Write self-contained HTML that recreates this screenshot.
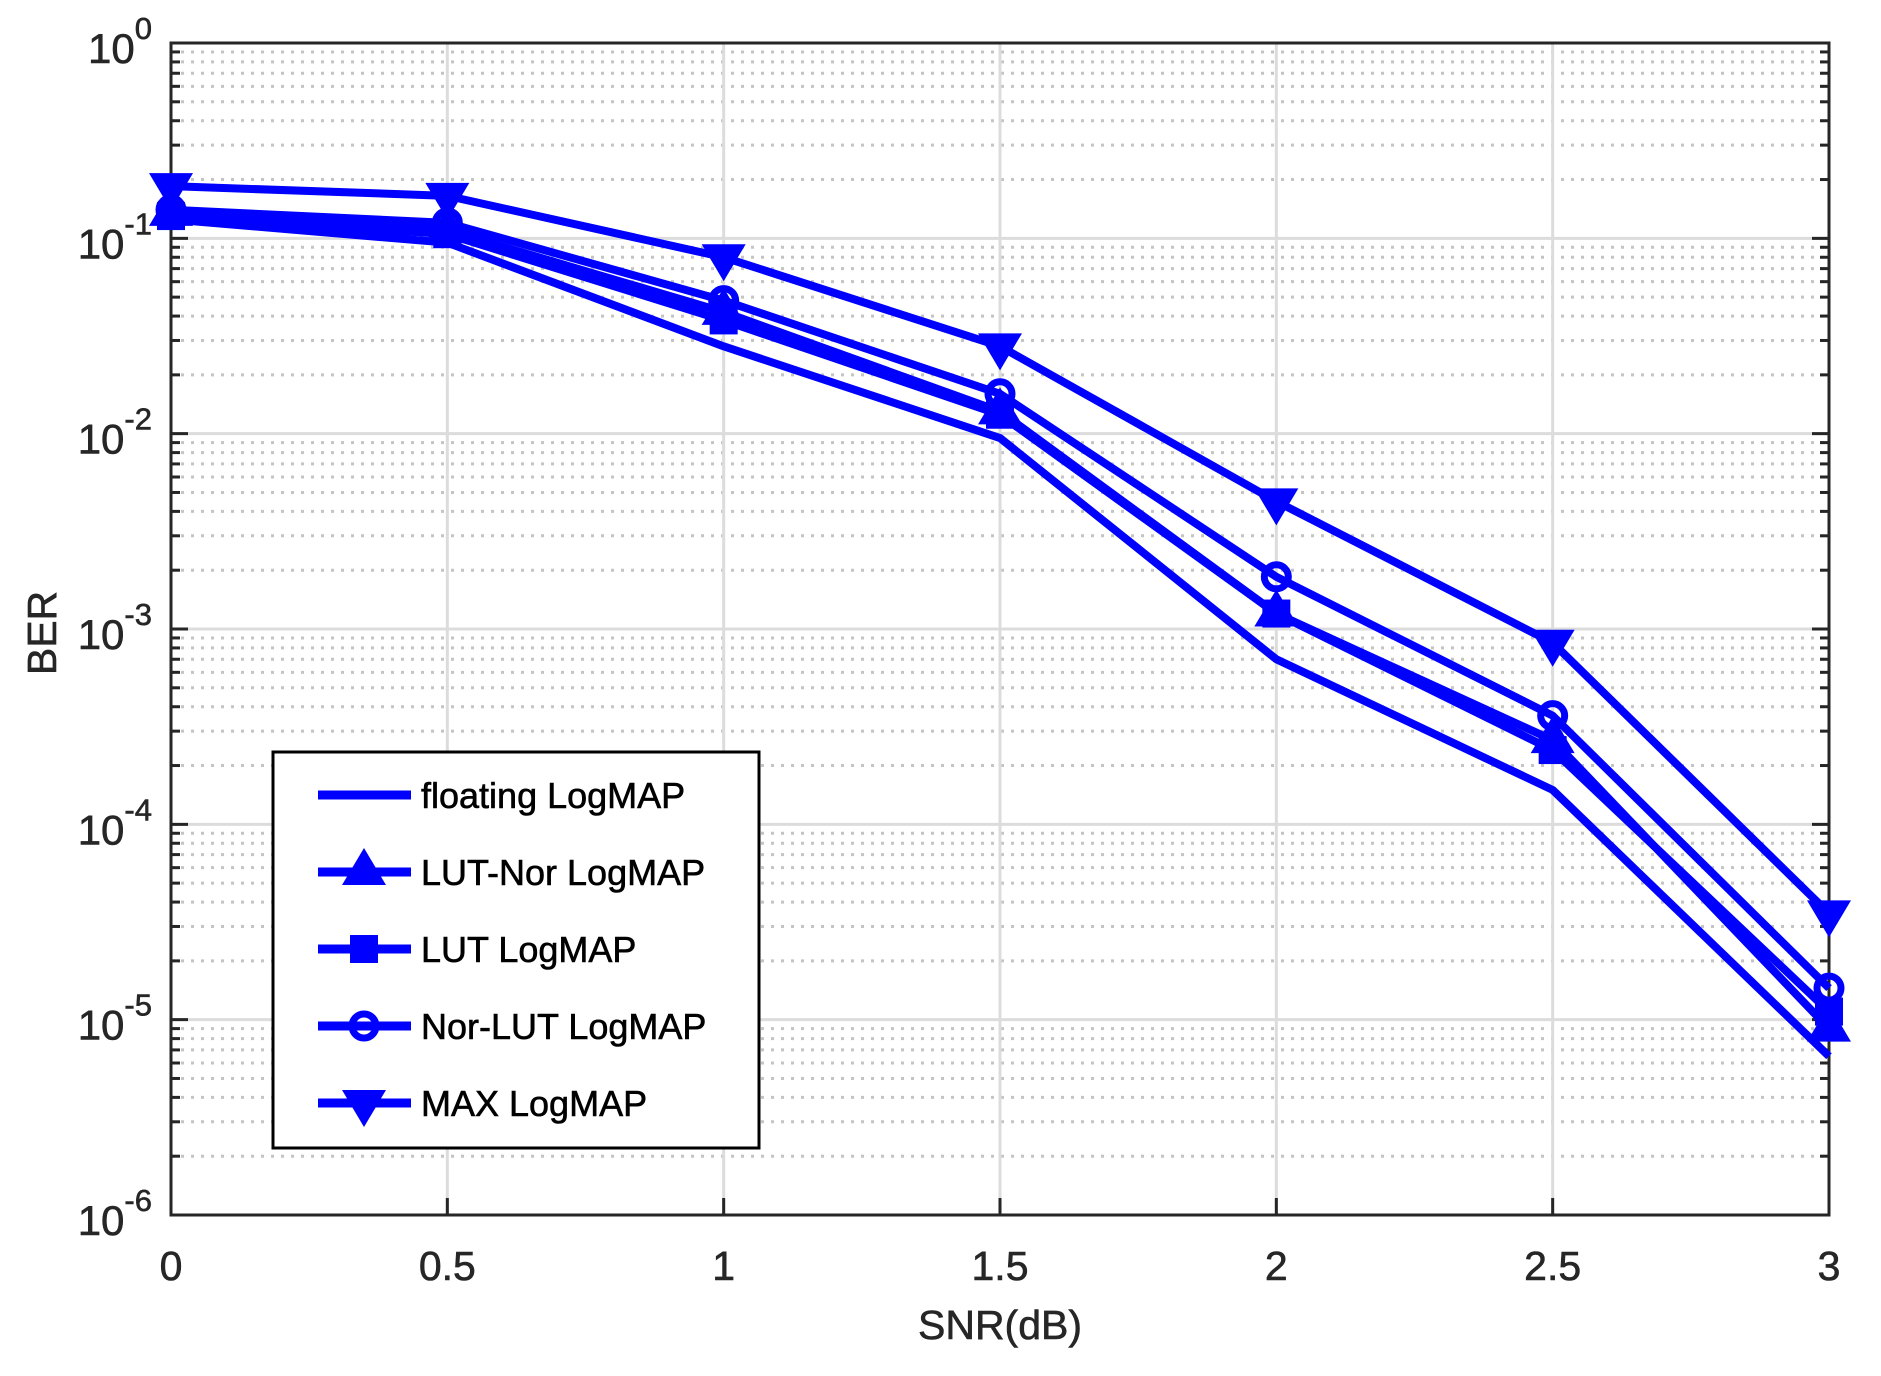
<!DOCTYPE html>
<html><head><meta charset="utf-8"><style>html,body{margin:0;padding:0;background:#fff}svg{display:block}</style></head>
<body>
<svg id="s" width="1881" height="1376" xmlns="http://www.w3.org/2000/svg" font-family="Liberation Sans, Arial, sans-serif"></svg>
<script>
const s=document.getElementById('s');
const X0=171,X1=1829,Y0=43,Y1=1215,D=(Y1-Y0)/6;
const fx=v=>X0+(X1-X0)*v/3, fy=v=>Y0+(-Math.log10(v))*D;
let h='<rect width="1881" height="1376" fill="#fff"/>';
for(let d=0;d<6;d++)for(let m=2;m<=9;m++){const y=Y0+D*d+D*(1-Math.log10(m));
h+=`<line x1="${X0}" x2="${X1}" y1="${y}" y2="${y}" stroke="#c4c4c4" stroke-width="3" stroke-dasharray="3,7"/>`;
h+=`<line x1="${X0}" x2="${X0+9}" y1="${y}" y2="${y}" stroke="#262626" stroke-width="3"/><line x1="${X1-9}" x2="${X1}" y1="${y}" y2="${y}" stroke="#262626" stroke-width="3"/>`;}
for(let d=1;d<6;d++){const y=Y0+D*d;h+=`<line x1="${X0}" x2="${X1}" y1="${y}" y2="${y}" stroke="#dcdcdc" stroke-width="3"/>`;}
for(let i=1;i<6;i++){const x=fx(i*0.5);h+=`<line x1="${x}" x2="${x}" y1="${Y0}" y2="${Y1}" stroke="#dcdcdc" stroke-width="3"/>`;}
for(let d=0;d<=6;d++){const y=Y0+D*d;h+=`<line x1="${X0}" x2="${X0+17}" y1="${y}" y2="${y}" stroke="#262626" stroke-width="3"/><line x1="${X1-17}" x2="${X1}" y1="${y}" y2="${y}" stroke="#262626" stroke-width="3"/>`;
h+=`<text x="${152}" y="${y+20}" font-size="42" fill="#262626" text-anchor="end" stroke="#262626" stroke-width="0.6">10<tspan font-size="31" dy="-24">${d==0?'0':'-'+d}</tspan></text>`;}
for(let i=0;i<=6;i++){const x=fx(i*0.5);h+=`<line x1="${x}" x2="${x}" y1="${Y1-17}" y2="${Y1}" stroke="#262626" stroke-width="3"/>`;
h+=`<text x="${x}" y="${1280}" font-size="41" fill="#262626" text-anchor="middle" stroke="#262626" stroke-width="0.6">${i*0.5}</text>`;}
h+=`<rect x="${X0}" y="${Y0}" width="${X1-X0}" height="${Y1-Y0}" fill="none" stroke="#262626" stroke-width="3"/>`;
h+=`<text x="1000" y="1339" font-size="41" fill="#262626" text-anchor="middle" stroke="#262626" stroke-width="0.6">SNR(dB)</text>`;
h+=`<text transform="translate(56,633) rotate(-90)" font-size="41" fill="#262626" text-anchor="middle" stroke="#262626" stroke-width="0.6">BER</text>`;
const xs=[0,0.5,1,1.5,2,2.5,3];
const S=[
 [[0.125,0.095,0.028,0.0095,7e-4,1.5e-4,6.5e-6],''],
 [[0.135,0.11,0.042,0.013,1.2e-3,2.7e-4,9e-6],'tu'],
 [[0.13,0.105,0.038,0.0125,1.2e-3,2.4e-4,1.1e-5],'sq'],
 [[0.14,0.12,0.048,0.016,1.85e-3,3.6e-4,1.45e-5],'ci'],
 [[0.185,0.165,0.08,0.028,4.5e-3,8.5e-4,3.5e-5],'td']];
const C='#0000ff';
function mk(t,x,y){
 if(t=='tu')return `<polygon points="${x},${y-24} ${x-22},${y+13} ${x+22},${y+13}" fill="${C}"/>`;
 if(t=='td')return `<polygon points="${x},${y+24} ${x-22},${y-13} ${x+22},${y-13}" fill="${C}"/>`;
 if(t=='sq')return `<rect x="${x-14}" y="${y-14}" width="28" height="28" fill="${C}"/>`;
 if(t=='ci')return `<circle cx="${x}" cy="${y}" r="12" fill="none" stroke="${C}" stroke-width="7"/>`;
 return '';}
S.forEach(([v,t])=>{const p=v.map((b,i)=>fx(xs[i])+','+fy(b)).join(' ');
 h+=`<polyline points="${p}" fill="none" stroke="${C}" stroke-width="8" stroke-linejoin="round"/>`;
 v.forEach((b,i)=>h+=mk(t,fx(xs[i]),fy(b)));});
h+=`<rect x="273" y="752" width="486" height="396" fill="#fff" stroke="#000" stroke-width="3"/>`;
const L=['floating LogMAP','LUT-Nor LogMAP','LUT LogMAP','Nor-LUT LogMAP','MAX LogMAP'];
L.forEach((n,i)=>{const y=795+i*77;
 h+=`<line x1="318" x2="411" y1="${y}" y2="${y}" stroke="${C}" stroke-width="9"/>`+mk(S[i][1],364,y);
 h+=`<text x="421" y="${y+13}" font-size="36" fill="#000" stroke="#000" stroke-width="0.6">${n}</text>`;});
s.innerHTML=h;
</script>
</body></html>
